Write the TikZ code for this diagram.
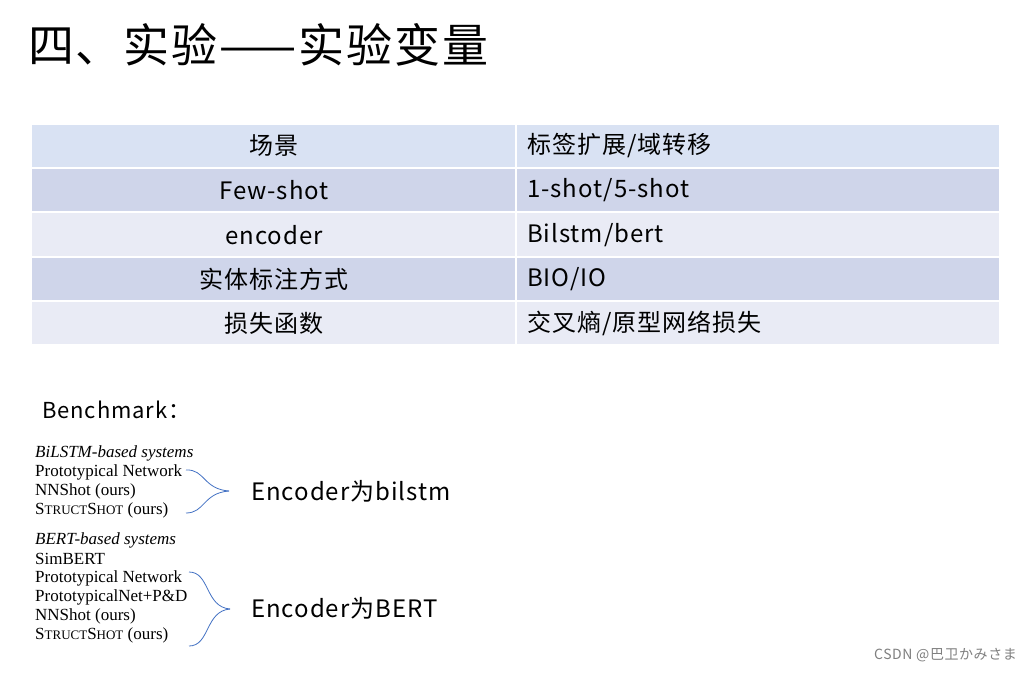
\documentclass[tikz,border=0pt]{standalone}
\usepackage{fontspec}
\setmainfont{Liberation Serif}
\newfontfamily\cjk{Noto Sans CJK SC}
\newfontfamily\cjkw[LetterSpace=4]{Noto Sans CJK SC}
\definecolor{hdr}{HTML}{D9E2F3}
\definecolor{rowa}{HTML}{CFD5EA}
\definecolor{rowb}{HTML}{E9EBF5}
\definecolor{brc}{HTML}{4472C4}
\newcommand{\refsz}{\fontsize{17}{19}\selectfont}
\newcommand{\refsm}{\fontsize{13}{15}\selectfont}
\begin{document}
\begin{tikzpicture}[x=1pt,y=-1pt,
  cell/.style={inner sep=0pt,anchor=center},
  lcell/.style={inner sep=0pt,anchor=west},
  ttx/.style={font=\cjkw\fontsize{24}{26}\selectfont},
  ref/.style={inner sep=0pt,anchor=west,font=\refsz},
  brace/.style={draw=brc,line width=0.8pt}]
\useasboundingbox (0,0) rectangle (1030,673);
\fill[white] (0,0) rectangle (1030,673);
\node[lcell,font=\cjkw\fontsize{46}{50}\selectfont] (title) at (28,45) {四、实验——实验变量};
% table
\foreach \y/\h/\c in {125/167/hdr,169/211/rowa,213/256/rowb,258/300/rowa,302/344/rowb}{
  \fill[\c] (32,\y) rectangle (515,\h);
  \fill[\c] (517,\y) rectangle (999,\h);
}
\node[cell,ttx] (a1) at (274,146) {场景};
\node[lcell,ttx] (b1) at (527,146) {标签扩展/域转移};
\node[cell,ttx] (a2) at (274,190) {Few-shot};
\node[lcell,ttx] (b2) at (527,190) {1-shot/5-shot};
\node[cell,ttx] (a3) at (274,235) {encoder};
\node[lcell,ttx] (b3) at (527,235) {Bilstm/bert};
\node[cell,ttx] (a4) at (274,279) {实体标注方式};
\node[lcell,ttx] (b4) at (527,279) {BIO/IO};
\node[cell,ttx] (a5) at (274,323) {损失函数};
\node[lcell,ttx] (b5) at (527,323) {交叉熵/原型网络损失};
\node[lcell,font=\cjkw\fontsize{22}{24}\selectfont] (bm) at (42,410) {Benchmark：};
% refs
\node[ref,font=\itshape\refsz] (r1) at (35,453) {BiLSTM-based systems};
\node[ref] (r2) at (35,472) {Prototypical Network};
\node[ref] (r3) at (35,491) {NNShot (ours)};
\node[ref] (r4) at (35,510) {S\refsm TRUCT\refsz S\refsm HOT\refsz\ (ours)};
\node[ref,font=\itshape\refsz] (s1) at (35,540) {BERT-based systems};
\node[ref] (s2) at (35,559) {SimBERT};
\node[ref] (s3) at (35,578) {Prototypical Network};
\node[ref] (s4) at (35,597) {PrototypicalNet+P\&D};
\node[ref] (s5) at (35,616) {NNShot (ours)};
\node[ref] (s6) at (35,635) {S\refsm TRUCT\refsz S\refsm HOT\refsz\ (ours)};
\coordinate (p1) at (186,470); \coordinate (t1) at (229,491); \coordinate (q1) at (186,513);
\draw[brace] (p1) .. controls (205,469) and (203,489) .. (t1);
\draw[brace] (t1) .. controls (203,493) and (205,513) .. (q1);
\coordinate (p2) at (189,572); \coordinate (t2) at (230,609); \coordinate (q2) at (189,646);
\draw[brace] (p2) .. controls (210,572) and (205,607) .. (t2);
\draw[brace] (t2) .. controls (205,611) and (210,646) .. (q2);
\node[lcell,font=\cjkw\fontsize{24}{26}\selectfont] (e1) at (251,491) {Encoder为bilstm};
\node[lcell,font=\cjkw\fontsize{24}{26}\selectfont] (e2) at (251,608) {Encoder为BERT};
\node[anchor=east,inner sep=0pt,text=gray,font=\cjkw\fontsize{14}{16}\selectfont] (wm) at (1017,655) {CSDN @巴卫かみさま};
\end{tikzpicture}
\end{document}
